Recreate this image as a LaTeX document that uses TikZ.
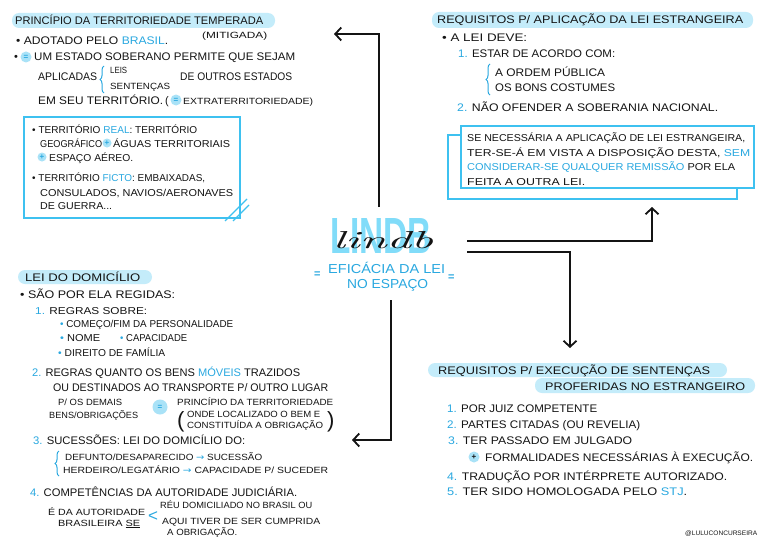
\documentclass[tikz,border=0pt]{standalone}
\usepackage{fontspec}
\usepackage{graphicx}
\usetikzlibrary{arrows.meta,decorations.pathreplacing}
\newfontfamily\hand{Liberation Sans}
\newfontfamily\dejavu{DejaVu Sans}
\definecolor{tblue}{HTML}{29A8E0}
\definecolor{hlblue}{HTML}{C4ECFA}
\definecolor{boxblue}{HTML}{3EC1F0}
\definecolor{cfill}{HTML}{A9E2F7}
\definecolor{lindbblue}{HTML}{6CD6F8}
\definecolor{ink}{HTML}{141414}
\newcommand{\hw}[2]{\resizebox{#1pt}{\height}{#2}}
\newcommand{\bl}[1]{\textcolor{tblue}{#1}}
\newcommand{\rarr}{\textcolor{tblue}{\dejavu →}}
\tikzset{
  tx/.style={anchor=base west, inner sep=0pt, text=ink, font=\hand\fontsize{11}{13}\selectfont},
  tm/.style={tx, font=\hand\fontsize{10}{12}\selectfont},
  ts/.style={tx, font=\hand\fontsize{9}{11}\selectfont},
  tt/.style={tx, font=\hand\fontsize{6.5}{8}\selectfont},
  circ/.style={circle, fill=cfill, inner sep=0pt, minimum size=11pt, text=tblue, font=\hand\bfseries\fontsize{8}{8}\selectfont},
  arr/.style={draw=ink, line width=1.8pt, -{Straight Barb[length=6pt,width=13pt]}},
  hl/.style={fill=hlblue, rounded corners=7pt},
  bx/.style={draw=boxblue, line width=1.3pt},
  br/.style={draw=tblue, line width=1pt, decorate, decoration={brace, amplitude=4pt}}
}
\begin{document}
\begin{tikzpicture}[x=1pt,y=-1pt]
\useasboundingbox[fill=white] (0,0) rectangle (768,543);

% ---------- highlights ----------
\fill[hl] (12,13) rectangle (275,28);
\fill[hl] (432,12) rectangle (753,28);
\fill[hl] (18,270) rectangle (152,284);
\fill[hl] (428,363) rectangle (727,377);
\fill[hl] (535,378) rectangle (755,393);

% ---------- top left ----------
\node[tx] (h1) at (15,25) {\hw{248}{PRINCÍPIO DA TERRITORIEDADE TEMPERADA}};
\node[ts] (mit) at (202,39) {\hw{65}{(MITIGADA)}};
\node[tx] (l1) at (16,45) {\hw{152}{• ADOTADO PELO \bl{BRASIL}.}};
\node[tx] (l2b) at (14,61) {•};
\node[circ] (c1) at (26,57) {=};
\node[tx] (l2) at (34,61) {\hw{261}{UM ESTADO SOBERANO PERMITE QUE SEJAM}};
\node[tx] (l3) at (38,81) {\hw{59}{APLICADAS}};
\draw[br] (104,93) -- (104,66);
\node[ts] (l3a) at (110,74) {\hw{17}{LEIS}};
\node[ts] (l3b) at (110,89) {\hw{60}{SENTENÇAS}};
\node[tx] (l3c) at (180,81) {\hw{112}{DE OUTROS ESTADOS}};
\node[tx] (l4) at (38,104) {\hw{125}{EM SEU TERRITÓRIO.}};
\node[tx] (l4p) at (165,104) {(};
\node[circ] (c2) at (176,100) {=};
\node[ts] (l4b) at (183,104) {\hw{130}{EXTRATERRITORIEDADE)}};

% box 1
\draw[bx] (24,117) rectangle (240,218);
\draw[boxblue, line width=1.1pt] (225,221) -- (247,199) (233,221) -- (249,205);
\node[tm] (b1) at (32,133) {\hw{165}{• TERRITÓRIO \bl{REAL}: TERRITÓRIO}};
\node[tm] (b2a) at (40,147) {\hw{62}{GEOGRÁFICO}};
\node[circ, minimum size=9pt] (c3) at (107,143) {+};
\node[tm] (b2b) at (113,147) {\hw{117}{ÁGUAS TERRITORIAIS}};
\node[circ, minimum size=9pt] (c4) at (42,157) {+};
\node[tm] (b3) at (49,161) {\hw{84}{ESPAÇO AÉREO.}};
\node[tm] (b4) at (32,181) {\hw{173}{• TERRITÓRIO \bl{FICTO}: EMBAIXADAS,}};
\node[tm] (b5) at (40,196) {\hw{193}{CONSULADOS, NAVIOS/AERONAVES}};
\node[tm] (b6) at (40,209) {\hw{72}{DE GUERRA...}};

% ---------- top right ----------
\node[tx] (h2) at (437,24) {\hw{306}{REQUISITOS P/ APLICAÇÃO DA LEI ESTRANGEIRA}};
\node[tx] (r1) at (442,42) {\hw{85}{• A LEI DEVE:}};
\node[tx] (r2) at (458,57) {\hw{157}{\bl{1.} ESTAR DE ACORDO COM:}};
\draw[br] (490,95) -- (490,64);
\node[tx] (r3) at (495,76) {\hw{110}{A ORDEM PÚBLICA}};
\node[tx] (r4) at (495,92) {\hw{120}{OS BONS COSTUMES}};
\node[tx] (r5) at (457,111) {\hw{261}{\bl{2.} NÃO OFENDER A SOBERANIA NACIONAL.}};

% box 2
\draw[bx] (461,135) -- (448,135) -- (448,199) -- (737,199) -- (737,188);
\draw[bx] (461,126) rectangle (754,188);
\node[tm] (s1) at (467,141) {\hw{278}{SE NECESSÁRIA A APLICAÇÃO DE LEI ESTRANGEIRA,}};
\node[tm] (s2) at (467,156) {\hw{283}{TER-SE-Á EM VISTA A DISPOSIÇÃO DESTA, \bl{SEM}}};
\node[tm] (s3) at (467,170) {\hw{268}{\bl{CONSIDERAR-SE QUALQUER REMISSÃO} POR ELA}};
\node[tm] (s4) at (467,185) {\hw{118}{FEITA A OUTRA LEI.}};

% ---------- centre ----------
\node[inner sep=0pt, text=lindbblue, opacity=0.85, font=\hand\bfseries\fontsize{48}{48}\selectfont] (lindb) at (381,236) {\resizebox{102pt}{35pt}{LINDB}};
\node[inner sep=0pt, text=ink] (cursive) at (383,240) {\resizebox{100pt}{17pt}{\itshape lindb}};
\node[tx, text=tblue, font=\hand\fontsize{13}{15}\selectfont] (ef1) at (328,273) {\hw{117}{EFICÁCIA DA LEI}};
\node[tx, text=tblue, font=\hand\fontsize{13}{15}\selectfont] (ef2) at (347,288) {\hw{81}{NO ESPAÇO}};
\node[tx, text=tblue, font=\hand\bfseries\fontsize{11}{13}\selectfont] (eqL) at (314,277) {=};
\node[tx, text=tblue, font=\hand\bfseries\fontsize{11}{13}\selectfont] (eqR) at (448,280) {=};

% ---------- arrows ----------
\coordinate (a1s) at (379,207);
\coordinate (a1e) at (334,34);
\coordinate (a2s) at (467,241);
\coordinate (a2e) at (652,207);
\coordinate (a3s) at (467,252);
\coordinate (a3e) at (570,348);
\coordinate (a4s) at (391,300);
\coordinate (a4e) at (352,440);
\draw[arr] (a1s) |- (a1e);
\draw[arr] (a2s) -| (a2e);
\draw[arr] (a3s) -| (a3e);
\draw[arr] (a4s) |- (a4e);

% ---------- bottom left ----------
\node[tx] (h3) at (25,281) {\hw{115}{LEI DO DOMICÍLIO}};
\node[tx] (d1) at (20,298) {\hw{155}{• SÃO POR ELA REGIDAS:}};
\node[tm] (d2) at (35,314) {\hw{112}{\bl{1.} REGRAS SOBRE:}};
\node[tm] (d3) at (60,327) {\hw{173}{\bl{•} COMEÇO/FIM DA PERSONALIDADE}};
\node[tm] (d4) at (60,341) {\hw{40}{\bl{•} NOME}};
\node[tm] (d4b) at (120,341) {\hw{67}{\bl{•} CAPACIDADE}};
\node[tm] (d5) at (58,356) {\hw{107}{\bl{•} DIREITO DE FAMÍLIA}};
\node[tx] (d6) at (32,376) {\hw{268}{\bl{2.} REGRAS QUANTO OS BENS \bl{MÓVEIS} TRAZIDOS}};
\node[tx] (d7) at (53,391) {\hw{275}{OU DESTINADOS AO TRANSPORTE P/ OUTRO LUGAR}};
\node[ts] (d8) at (58,405) {\hw{64}{P/ OS DEMAIS}};
\node[ts] (d9) at (49,418) {\hw{89}{BENS/OBRIGAÇÕES}};
\node[circ, minimum size=15pt] (c5) at (160,407) {=};
\node[ts] (d10) at (177,405) {\hw{156}{PRINCÍPIO DA TERRITORIEDADE}};
\node[tx, font=\hand\fontsize{22}{22}\selectfont] (pl) at (177,427) {(};
\node[tx, font=\hand\fontsize{22}{22}\selectfont] (pr) at (327,427) {)};
\node[ts] (d11) at (187,417) {\hw{133}{ONDE LOCALIZADO O BEM E}};
\node[ts] (d12) at (187,428) {\hw{136}{CONSTITUÍDA A OBRIGAÇÃO}};
\node[tx] (d13) at (33,444) {\hw{212}{\bl{3.} SUCESSÕES: LEI DO DOMICÍLIO DO:}};
\draw[br] (59,476) -- (59,451);
\node[ts] (d14) at (65,460) {\hw{197}{DEFUNTO/DESAPARECIDO \rarr{} SUCESSÃO}};
\node[ts] (d15) at (63,473) {\hw{265}{HERDEIRO/LEGATÁRIO \rarr{} CAPACIDADE P/ SUCEDER}};
\node[tx] (d16) at (30,496) {\hw{267}{\bl{4.} COMPETÊNCIAS DA AUTORIDADE JUDICIÁRIA.}};
\node[ts] (d17) at (48,515) {\hw{97}{É DA AUTORIDADE}};
\node[ts] (d18) at (58,526) {\hw{82}{BRASILEIRA \underline{SE}}};
\node[tx, text=tblue, font=\hand\fontsize{17}{17}\selectfont] (lt) at (148,521) {<};
\node[ts] (d19) at (160,508) {\hw{152}{RÉU DOMICILIADO NO BRASIL OU}};
\node[ts] (d20) at (162,524) {\hw{158}{AQUI TIVER DE SER CUMPRIDA}};
\node[ts] (d21) at (167,535) {\hw{70}{A OBRIGAÇÃO.}};

% ---------- bottom right ----------
\node[tx] (e0) at (438,374) {\hw{272}{REQUISITOS P/ EXECUÇÃO DE SENTENÇAS}};
\node[tx] (e0b) at (545,390) {\hw{200}{PROFERIDAS NO ESTRANGEIRO}};
\node[tx] (e1) at (447,412) {\hw{150}{\bl{1.} POR JUIZ COMPETENTE}};
\node[tx] (e2) at (447,428) {\hw{193}{\bl{2.} PARTES CITADAS (OU REVELIA)}};
\node[tx] (e3) at (448,444) {\hw{184}{\bl{3.} TER PASSADO EM JULGADO}};
\node[circ, text=ink] (c6) at (474,457) {+};
\node[tx] (e4) at (485,461) {\hw{268}{FORMALIDADES NECESSÁRIAS À EXECUÇÃO.}};
\node[tx] (e5) at (447,480) {\hw{280}{\bl{4.} TRADUÇÃO POR INTÉRPRETE AUTORIZADO.}};
\node[tx] (e6) at (447,495) {\hw{240}{\bl{5.} TER SIDO HOMOLOGADA PELO \bl{STJ}.}};
\node[tt] (sig) at (685,535) {\hw{72}{@LULUCONCURSEIRA}};
\end{tikzpicture}
\end{document}
